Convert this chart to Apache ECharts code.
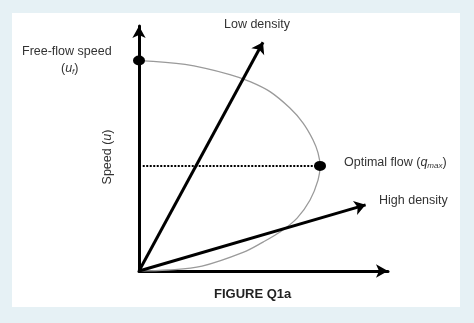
<!DOCTYPE html>
<html><head><meta charset="utf-8">
<script src="https://cdn.jsdelivr.net/npm/echarts@6/dist/echarts.min.js"></script>
<style>html,body{margin:0;padding:0;background:#e6f1f5}#c{width:474px;height:323px}</style>
</head><body><div id="c"></div>
<script>
// Speed-flow curve (flow q, speed u), arbitrary units
const curveFlow  = [0, 18.5, 36.5, 44.6, 52.6, 60.6, 65.9, 69.9, 71.9, 72.7, 71.9, 68.7, 63.5, 56.6, 49.8, 41.8, 25.3, 11.6, 0];
const curveSpeed = [85.9, 84.3, 80.2, 77.3, 73.2, 66.5, 60.4, 53.5, 48.2, 42.9, 37.1, 29.0, 21.6, 15.9, 11.8, 7.6, 2.0, 0.4, 0];
const freeFlowPoint = [0, 85.9];
const optimalPoint = [72.7, 42.9];
const lowDensityEnd = [49.8, 93.4];
const highDensityEnd = [91, 27];
const origin = [0, 0];
const labels = {
  lowDensity: 'Low density',
  highDensity: 'High density',
  freeFlow: 'Free-flow speed',
  title: 'FIGURE Q1a'
};

const chart = echarts.init(document.getElementById('c'), null, {renderer: 'canvas'});
const font = '"Liberation Sans", Arial, sans-serif';
const curveData = curveFlow.map((q, i) => [q, curveSpeed[i]]);
const txt = '#333';
const rich = {
  n: {fontFamily: font, fontSize: 12.5, fill: txt},
  i: {fontFamily: font, fontSize: 12.5, fill: txt, fontStyle: 'italic'},
  s: {fontFamily: font, fontSize: 8, fill: txt, fontStyle: 'italic', padding: [6, 0, 0, 0]}
};

chart.setOption({
  backgroundColor: '#e6f1f5',
  animation: false,
  grid: {left: 139, right: 86, top: 26, bottom: 52},
  xAxis: {
    type: 'value', min: 0, max: 100,
    axisLine: {show: true, onZero: true, symbol: ['none', 'arrow'], symbolSize: [10, 12],
      lineStyle: {color: '#000', width: 3}},
    axisTick: {show: false}, axisLabel: {show: false}, splitLine: {show: false}
  },
  yAxis: {
    type: 'value', min: 0, max: 100,
    axisLine: {show: true, symbol: ['none', 'arrow'], symbolSize: [10, 12],
      lineStyle: {color: '#000', width: 3}},
    axisTick: {show: false}, axisLabel: {show: false}, splitLine: {show: false}
  },
  graphic: [
    {type: 'rect', z: -10, shape: {x: 12, y: 13, width: 448, height: 294}, style: {fill: '#fff'}},
    {type: 'text', left: 224, top: 18, style: {text: labels.lowDensity, font: '12.5px ' + font, fill: txt}},
    {type: 'text', left: 22, top: 45, style: {text: labels.freeFlow, font: '12.5px ' + font, fill: txt}},
    {type: 'text', left: 61, top: 62, style: {text: '{n|(}{i|u}{s|f}{n|)}', rich: rich}},
    {type: 'text', left: 344, top: 156, style: {text: '{n|Optimal flow (}{i|q}{s|max}{n|)}', rich: rich}},
    {type: 'text', left: 379, top: 194, style: {text: labels.highDensity, font: '12.5px ' + font, fill: txt}},
    {type: 'text', x: 108, y: 157, rotation: Math.PI / 2,
      style: {text: '{n|Speed (}{i|u}{n|)}', rich: rich, align: 'center', verticalAlign: 'middle'}},
    {type: 'text', left: 214, top: 288, style: {text: labels.title, font: 'bold 13px ' + font, fill: '#222'}}
  ],
  series: [
    {
      type: 'line', data: curveData, smooth: 0.35, symbol: 'none',
      lineStyle: {color: '#9a9a9a', width: 1.3}, z: 2
    },
    {
      type: 'line', data: [[1.5, optimalPoint[1]], optimalPoint], symbol: 'none',
      lineStyle: {color: '#000', width: 2, type: [2, 1.5]}, z: 3
    },
    {
      type: 'lines', coordinateSystem: 'cartesian2d', z: 4,
      symbol: ['none', 'arrow'], symbolSize: 11,
      lineStyle: {color: '#000', width: 3, opacity: 1},
      data: [{coords: [origin, lowDensityEnd]}, {coords: [origin, highDensityEnd]}]
    },
    {
      type: 'scatter', symbol: 'circle', symbolSize: [12, 10], z: 5,
      itemStyle: {color: '#000', opacity: 1},
      data: [freeFlowPoint, optimalPoint]
    }
  ]
});
</script></body></html>
